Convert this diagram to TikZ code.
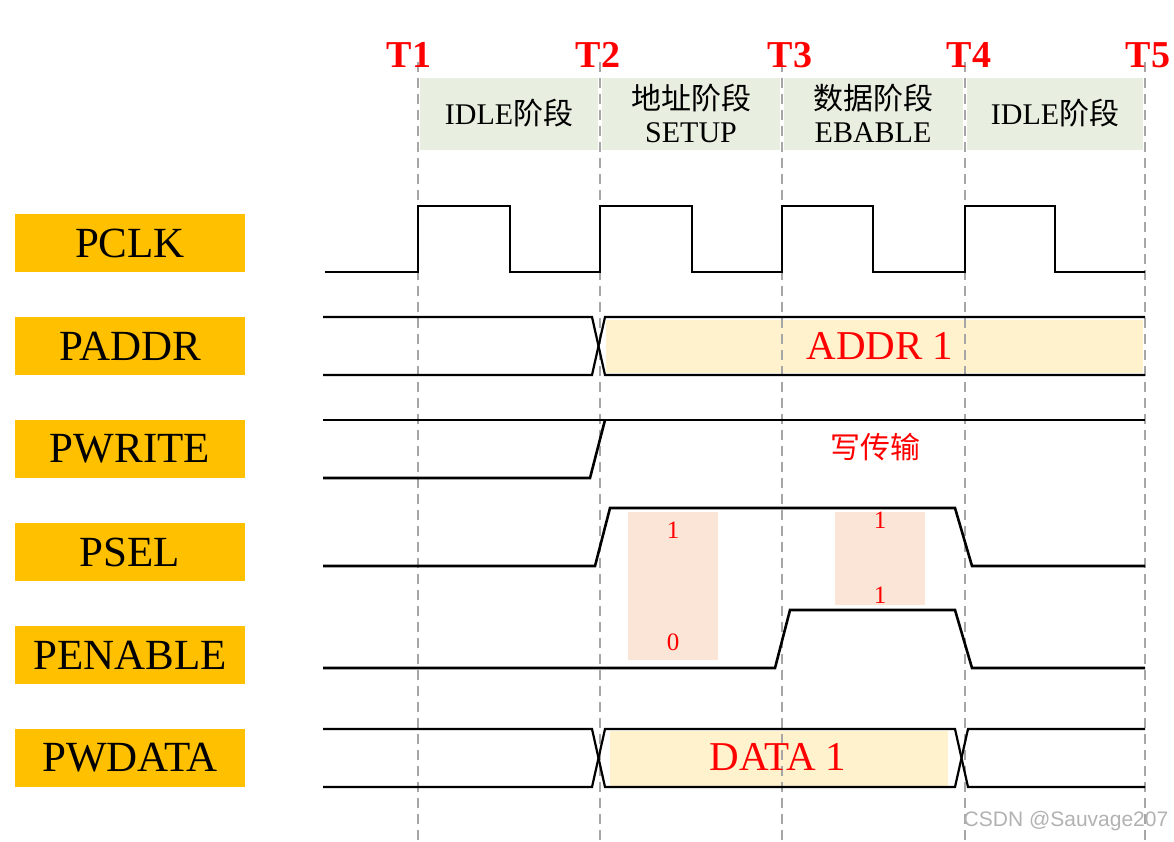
\documentclass[tikz,border=0pt]{standalone}
\usepackage{fontspec}
\setmainfont{Liberation Serif}
\newfontfamily\cjk{Noto Sans CJK SC}
\newfontfamily\wm{Liberation Sans}
\definecolor{lbl}{HTML}{FFC000}
\definecolor{phase}{HTML}{E8EFE0}
\definecolor{cream}{HTML}{FFF2CC}
\definecolor{pink}{HTML}{FBE5D6}
\definecolor{tred}{HTML}{FF0000}
\begin{document}
\begin{tikzpicture}[x=1pt,y=-1pt,
  sig/.style={line width=2.6pt,line join=miter},
  bus/.style={line width=2.2pt},
  lblbox/.style={fill=lbl,minimum width=230pt,minimum height=58pt,font=\fontsize{43}{43}\selectfont,inner sep=0pt},
  tlab/.style={text=tred,font=\bfseries\fontsize{38}{38}\selectfont},
  phasebox/.style={fill=phase,draw=none},
  ph/.style={font=\fontsize{30}{33}\selectfont,align=center},
  rtxt/.style={text=tred,font=\fontsize{41}{41}\selectfont},
  stxt/.style={text=tred,font=\fontsize{25}{25}\selectfont},
  vdash/.style={dashed,dash pattern=on 10pt off 6pt,gray!70,line width=1.8pt}]
\useasboundingbox (0,0) rectangle (1174,841);
% phase boxes
\fill[phase] (420,78) rectangle (598,150);
\fill[phase] (602,78) rectangle (780,150);
\fill[phase] (784,78) rectangle (963,150);
\fill[phase] (967,78) rectangle (1143,150);
\node[ph] (p1) at (509,113) {IDLE{\cjk 阶段}};
\node[ph] (p2) at (691,113) {{\cjk 地址阶段}\\SETUP};
\node[ph] (p3) at (873,113) {{\cjk 数据阶段}\\EBABLE};
\node[ph] (p4) at (1055,113) {IDLE{\cjk 阶段}};
% highlight boxes
\fill[cream] (606,320) rectangle (1143,373);
\fill[cream] (610,731) rectangle (948,786);
\fill[pink] (628,512) rectangle (718,660);
\fill[pink] (835,512) rectangle (925,605);
% dashed lines
\foreach \x/\n/\o in {418/T1/-9,600/T2/-2,782/T3/8,965/T4/4,1145/T5/3}{
  \coordinate (top\n) at (\x,62);
  \coordinate (bot\n) at (\x,841);
  \draw[vdash] (top\n) -- (bot\n);
  \node[tlab] (l\n) at (\x+\o,55) {\n};
}
% labels
\node[lblbox] (a) at (130,243) {PCLK};
\node[lblbox] (b) at (130,346) {PADDR};
\node[lblbox] (c) at (130,449) {PWRITE};
\node[lblbox] (d) at (130,552) {PSEL};
\node[lblbox] (e) at (130,655) {PENABLE};
\node[lblbox] (f) at (130,758) {PWDATA};
% PCLK
\draw[sig] (325,272) -- (418,272) -- (418,206) -- (510,206) -- (510,272) -- (600,272) -- (600,206) -- (692,206) -- (692,272) -- (782,272) -- (782,206) -- (873,206) -- (873,272) -- (965,272) -- (965,206) -- (1055,206) -- (1055,272) -- (1145,272);
% PADDR
\draw[bus] (323,317) -- (592,317) -- (605,375) -- (1145,375);
\draw[bus] (323,375) -- (592,375) -- (605,317) -- (1145,317);
\node[rtxt] (addr) at (880,346) {ADDR 1};
% PWRITE
\draw[bus] (323,420) -- (1145,420);
\draw[sig] (323,478) -- (590,478) -- (605,420);
\node[stxt,font=\cjk\fontsize{30}{30}\selectfont] (wr) at (875,447) {写传输};
% PSEL
\draw[sig] (323,566) -- (595,566) -- (610,508) -- (955,508) -- (972,566) -- (1145,566);
% PENABLE
\draw[sig] (323,668) -- (775,668) -- (790,610) -- (955,610) -- (972,668) -- (1145,668);
\node[stxt] (s1) at (673,530) {1};
\node[stxt] (s0) at (673,642) {0};
\node[stxt] (s2) at (880,520) {1};
\node[stxt] (s3) at (880,595) {1};
% PWDATA
\draw[bus] (323,729) -- (592,729) -- (605,787) -- (955,787) -- (968,729) -- (1145,729);
\draw[bus] (323,787) -- (592,787) -- (605,729) -- (955,729) -- (968,787) -- (1145,787);
\node[rtxt] (data) at (778,757) {DATA 1};
\node[text=gray!60,font=\wm\fontsize{21}{21}\selectfont] (wmk) at (1066,821) {CSDN @Sauvage207};
\end{tikzpicture}
\end{document}
